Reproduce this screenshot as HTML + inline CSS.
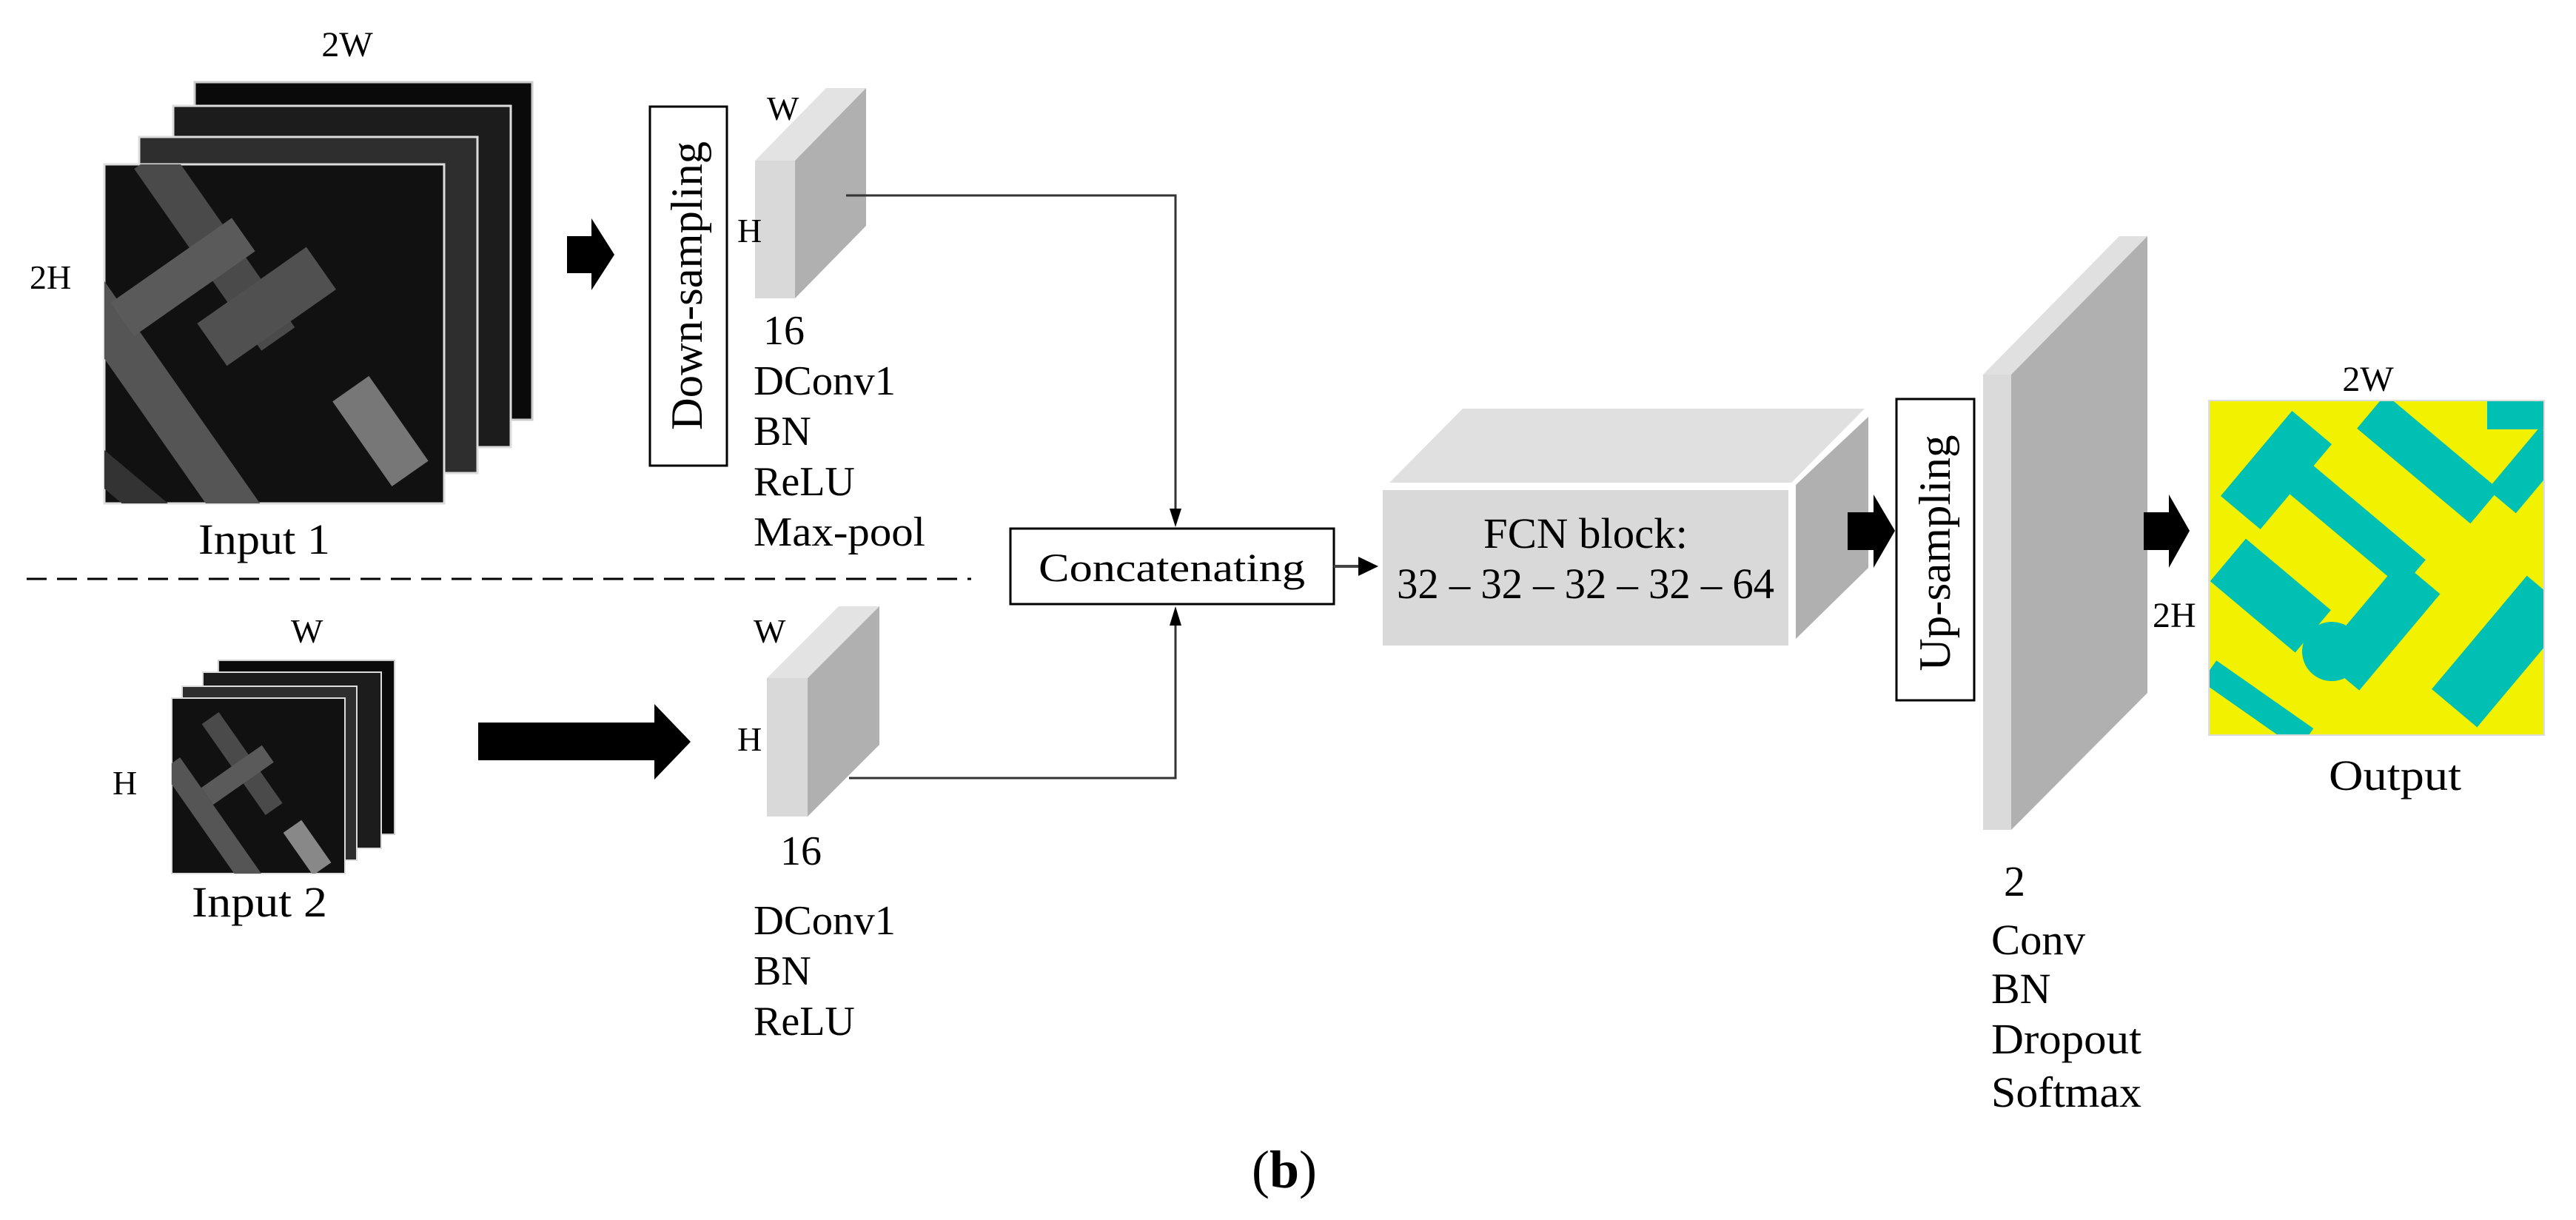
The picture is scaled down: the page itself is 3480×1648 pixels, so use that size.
<!DOCTYPE html>
<html><head><meta charset="utf-8"><style>html,body{margin:0;padding:0;background:#fff}svg{display:block}svg text{font-family:"Liberation Serif","DejaVu Serif",serif}</style></head>
<body>
<svg width="3480" height="1648" viewBox="0 0 3480 1648" xmlns="http://www.w3.org/2000/svg" fill="#000">
<defs>
<clipPath id="c1"><rect x="141" y="222" width="459" height="458"/></clipPath>
<clipPath id="c2"><rect x="232" y="943" width="234" height="237"/></clipPath>
<clipPath id="co"><rect x="2984" y="541" width="453" height="452"/></clipPath>
</defs>

<!-- Input 1 stack -->
<rect x="263" y="111" width="456" height="456" fill="#0a0a0a" stroke="#ccc" stroke-width="3"/>
<rect x="234" y="143" width="456" height="461" fill="#1c1c1c" stroke="#ddd" stroke-width="3"/>
<rect x="188" y="185" width="457" height="454" fill="#2e2e2e" stroke="#ddd" stroke-width="3"/>
<rect x="141" y="222" width="459" height="458" fill="#111" stroke="#ddd" stroke-width="3"/>
<g clip-path="url(#c1)">
<rect x="150" y="250" width="60" height="430" fill="#555" transform="rotate(-35 300 450)"/>
<rect x="330" y="200" width="55" height="300" fill="#4a4a4a" transform="rotate(-35 300 450)"/>
<rect x="200" y="330" width="200" height="55" fill="#5a5a5a" transform="rotate(-35 300 450)"/>
<rect x="280" y="420" width="180" height="70" fill="#505050" transform="rotate(-35 300 450)"/>
<rect x="480" y="520" width="60" height="140" fill="#777" transform="rotate(-35 500 580)"/>
<rect x="140" y="560" width="40" height="300" fill="#333" transform="rotate(-50 160 650)"/>
</g>
<!-- arrow 1 -->
<polygon points="766,319 799,319 799,295 830,344 799,392 799,369 766,369"/>
<!-- Down-sampling box -->
<rect x="878" y="144" width="104" height="485" fill="#fff" stroke="#000" stroke-width="3"/>
<text transform="translate(948,386) rotate(-90)" font-size="60" text-anchor="middle" textLength="390" lengthAdjust="spacingAndGlyphs">Down-sampling</text>
<!-- block 1 -->
<polygon points="1020,217 1074,217 1170,119 1116,119" fill="#e3e3e3"/>
<polygon points="1074,217 1170,119 1170,305 1074,403" fill="#b0b0b0"/>
<rect x="1020" y="217" width="54" height="186" fill="#d9d9d9"/>
<text x="1036" y="162" font-size="46">W</text>
<text x="996" y="327" font-size="46">H</text>
<text x="1031" y="465" font-size="56">16</text>
<text x="1018" y="533" font-size="56" textLength="192" lengthAdjust="spacingAndGlyphs">DConv1</text>
<text x="1018" y="601" font-size="56">BN</text>
<text x="1018" y="669" font-size="56">ReLU</text>
<text x="1018" y="737" font-size="56" textLength="232" lengthAdjust="spacingAndGlyphs">Max-pool</text>
<text x="469" y="76" font-size="48" text-anchor="middle">2W</text>
<text x="40" y="390" font-size="46">2H</text>
<text x="268" y="748" font-size="58" textLength="178" lengthAdjust="spacingAndGlyphs">Input 1</text>
<!-- dashed -->
<line x1="36" y1="782" x2="1312" y2="782" stroke="#000" stroke-width="3" stroke-dasharray="27,14"/>

<!-- Input 2 stack -->
<rect x="295" y="892" width="238" height="235" fill="#0a0a0a" stroke="#ccc" stroke-width="2"/>
<rect x="274" y="908" width="241" height="238" fill="#1c1c1c" stroke="#ddd" stroke-width="2"/>
<rect x="246" y="927" width="236" height="235" fill="#2e2e2e" stroke="#ddd" stroke-width="2"/>
<rect x="232" y="943" width="234" height="237" fill="#111" stroke="#ddd" stroke-width="2"/>
<g clip-path="url(#c2)">
<rect x="250" y="980" width="30" height="200" fill="#555" transform="rotate(-35 330 1060)"/>
<rect x="330" y="960" width="28" height="150" fill="#4a4a4a" transform="rotate(-35 330 1060)"/>
<rect x="280" y="1030" width="100" height="28" fill="#5a5a5a" transform="rotate(-35 330 1060)"/>
<rect x="400" y="1110" width="30" height="70" fill="#888" transform="rotate(-35 415 1145)"/>
</g>
<text x="393" y="868" font-size="46">W</text>
<text x="152" y="1073" font-size="46">H</text>
<text x="259" y="1238" font-size="58" textLength="183" lengthAdjust="spacingAndGlyphs">Input 2</text>
<!-- arrow 2 -->
<polygon points="646,976 884,976 884,951 933,1002 884,1053 884,1027 646,1027"/>
<!-- block 2 -->
<polygon points="1036,916 1091,916 1188,819 1133,819" fill="#e3e3e3"/>
<polygon points="1091,916 1188,819 1188,1006 1091,1103" fill="#b0b0b0"/>
<rect x="1036" y="916" width="55" height="187" fill="#d9d9d9"/>
<text x="1018" y="868" font-size="46">W</text>
<text x="996" y="1014" font-size="46">H</text>
<text x="1054" y="1168" font-size="56">16</text>
<text x="1018" y="1262" font-size="56" textLength="192" lengthAdjust="spacingAndGlyphs">DConv1</text>
<text x="1018" y="1330" font-size="56">BN</text>
<text x="1018" y="1398" font-size="56">ReLU</text>

<!-- connectors -->
<polyline points="1143,264 1588,264 1588,690" fill="none" stroke="#333" stroke-width="3"/>
<polygon points="1580,687 1596,687 1588,712"/>
<polyline points="1147,1051 1588,1051 1588,840" fill="none" stroke="#333" stroke-width="3"/>
<polygon points="1580,845 1596,845 1588,819"/>
<rect x="1365" y="714" width="437" height="102" fill="#fff" stroke="#000" stroke-width="3"/>
<text x="1583" y="785" font-size="54" text-anchor="middle" textLength="360" lengthAdjust="spacingAndGlyphs">Concatenating</text>
<line x1="1802" y1="765" x2="1840" y2="765" stroke="#444" stroke-width="4"/>
<polygon points="1835,752 1862,765 1835,778"/>

<!-- FCN block -->
<polygon points="1877,652 2420,652 2519,552 1976,552" fill="#e0e0e0"/>
<polygon points="2426,655 2524,563 2524,767 2426,863" fill="#b0b0b0"/>
<rect x="1868" y="662" width="548" height="210" fill="#d9d9d9"/>
<text x="2142" y="740" font-size="58" text-anchor="middle" textLength="276" lengthAdjust="spacingAndGlyphs">FCN block:</text>
<text x="2142" y="808" font-size="58" text-anchor="middle" textLength="510" lengthAdjust="spacingAndGlyphs">32 – 32 – 32 – 32 – 64</text>
<polygon points="2496,692 2531,692 2531,668 2560,717 2531,767 2531,743 2496,743"/>

<!-- Up-sampling -->
<rect x="2562" y="539" width="105" height="407" fill="#fff" stroke="#000" stroke-width="3"/>
<text transform="translate(2634,747) rotate(-90)" font-size="60" text-anchor="middle" textLength="319" lengthAdjust="spacingAndGlyphs">Up-sampling</text>
<!-- slab -->
<polygon points="2679,506 2717,506 2901,319 2863,319" fill="#e0e0e0"/>
<polygon points="2717,506 2901,319 2901,936 2717,1121" fill="#b0b0b0"/>
<rect x="2679" y="506" width="38" height="615" fill="#dadada"/>
<text x="2707" y="1210" font-size="58">2</text>
<text x="2690" y="1289" font-size="58" textLength="127" lengthAdjust="spacingAndGlyphs">Conv</text>
<text x="2690" y="1355" font-size="58">BN</text>
<text x="2690" y="1423" font-size="58" textLength="203" lengthAdjust="spacingAndGlyphs">Dropout</text>
<text x="2690" y="1495" font-size="58" textLength="203" lengthAdjust="spacingAndGlyphs">Softmax</text>
<polygon points="2896,692 2930,692 2930,668 2958,717 2930,767 2930,743 2896,743"/>

<!-- Output -->
<rect x="2984" y="541" width="453" height="452" fill="#f2f200"/>
<g clip-path="url(#co)" fill="#00bfb3">
<rect x="3040" y="560" width="70" height="150" transform="rotate(40 3075 635)"/>
<rect x="3140" y="570" width="50" height="250" transform="rotate(-50 3165 695)"/>
<rect x="3250" y="520" width="60" height="200" transform="rotate(-50 3280 620)"/>
<rect x="3030" y="730" width="75" height="150" transform="rotate(-50 3067 805)"/>
<rect x="3180" y="760" width="70" height="170" transform="rotate(40 3215 845)"/>
<rect x="3340" y="780" width="80" height="200" transform="rotate(40 3380 880)"/>
<rect x="3390" y="580" width="50" height="110" transform="rotate(40 3415 635)"/>
<rect x="2970" y="935" width="160" height="35" transform="rotate(35 3050 952)"/>
<rect x="3360" y="540" width="80" height="40"/>
<circle cx="3150" cy="880" r="40"/>
</g>
<rect x="2984" y="541" width="453" height="452" fill="none" stroke="#ddd" stroke-width="2"/>
<text x="3199" y="528" font-size="48" text-anchor="middle">2W</text>
<text x="2908" y="847" font-size="48">2H</text>
<text x="3146" y="1067" font-size="58" textLength="179" lengthAdjust="spacingAndGlyphs">Output</text>

<text x="1735" y="1604" font-size="72" text-anchor="middle">(<tspan font-weight="bold">b</tspan>)</text>
</svg>
</body></html>
